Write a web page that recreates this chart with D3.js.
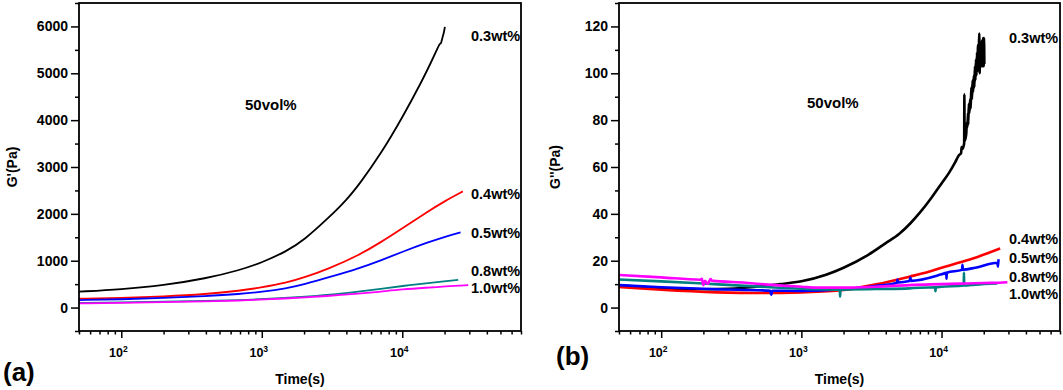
<!DOCTYPE html>
<html>
<head>
<meta charset="utf-8">
<script src="https://cdn.jsdelivr.net/npm/d3@7"></script>
<style>
  body { margin: 0; background: #fff; }
  svg { display: block; }
  text { font-family: "Liberation Sans", Arial, sans-serif; font-weight: bold; fill: #000; }
</style>
</head>
<body>
<div id="chart"></div>
<script>
// ---- data ----
const seriesLabels = ["0.3wt%", "0.4wt%", "0.5wt%", "0.8wt%", "1.0wt%"];
const seriesColors = ["#000000", "#ff0000", "#0000ff", "#008080", "#ff00ff"];

const timeDomain = [50, 70000];
const timeMajor = [100, 1000, 10000];

const storageTicks = [0, 1000, 2000, 3000, 4000, 5000, 6000];
const lossTicks = [0, 20, 40, 60, 80, 100, 120];

// (a) G' storage modulus, [time s, Pa]
const storage03 = [[50, 340], [100, 390], [200, 475], [400, 620], [700, 800], [1000, 960], [1500, 1200],
  [2000, 1440], [3000, 1920], [4000, 2290], [5000, 2650], [7000, 3270], [10000, 4050], [14000, 4870],
  [16000, 5230], [18000, 5560], [18600, 5650], [18800, 5610], [19300, 5760], [19800, 5870], [20100, 5990]];
const storage04 = [[50, 190], [100, 205], [200, 235], [400, 285], [700, 360], [1000, 430], [1500, 530],
  [2000, 640], [3000, 830], [5000, 1130], [7000, 1390], [10000, 1690], [15000, 2040], [20000, 2270], [27000, 2480]];
const storage05 = [[50, 160], [100, 175], [200, 205], [400, 245], [700, 290], [1000, 335], [1500, 410],
  [2000, 495], [3000, 645], [5000, 845], [7000, 1005], [10000, 1190], [15000, 1385], [20000, 1510], [26000, 1605]];
const storage08 = [[50, 100], [100, 110], [200, 125], [400, 140], [700, 160], [1000, 180], [2000, 230],
  [3000, 270], [5000, 345], [7000, 400], [10000, 460], [15000, 520], [20000, 560], [25000, 590]];
const storage10 = [[50, 90], [100, 100], [200, 115], [400, 130], [700, 150], [1000, 168], [2000, 215],
  [3000, 250], [5000, 300], [7000, 340], [10000, 388], [15000, 425], [20000, 450], [29500, 480]];

// (b) G'' loss modulus, [time s, Pa]
const loss03 = [[50, 9.5], [100, 8.3], [200, 7.8], [300, 8.0], [500, 9.0], [700, 10.0], [1000, 11.2],
  [1500, 14.0], [2000, 17.0], [3000, 22.5], [4000, 27.5], [5000, 31.5], [6000, 36.0], [7000, 40.5],
  [8500, 47], [10000, 53], [11300, 57.5], [12500, 62], [13300, 65], [13800, 66], [13900, 68.5],
  [14000, 67.5], [14500, 70], [14550, 91], [14600, 71], [15000, 74], [15150, 79], [15300, 77], [15450, 83],
  [15500, 78], [15650, 87], [15800, 83], [16000, 89], [16150, 85], [16300, 94], [16500, 89], [16650, 97],
  [16800, 92], [17000, 99], [17150, 94], [17300, 103], [17450, 97], [17600, 106], [17750, 99], [17900, 109],
  [18050, 101], [18200, 112], [18350, 103], [18500, 113], [18600, 117], [18700, 100], [18850, 111],
  [19000, 104], [19150, 113], [19300, 103], [19450, 114], [19600, 103], [19800, 115], [20000, 103],
  [20100, 115], [20200, 104]];
const loss04 = [[50, 8.8], [100, 7.6], [250, 6.5], [500, 6.2], [1000, 6.5], [2000, 7.5], [3400, 9.9],
  [5900, 13.2], [8000, 15.2], [10000, 17.0], [13000, 19.0], [17400, 21.3], [22000, 23.5], [26200, 25.2]];
const loss05 = [[50, 9.6], [100, 8.7], [250, 7.8], [600, 7.2], [610, 5.4], [620, 7.2], [1000, 7.1],
  [2000, 7.8], [3400, 9.2], [4800, 10.6], [4850, 12.0], [4900, 10.7], [5900, 11.3], [6000, 12.8],
  [6050, 11.4], [10000, 14.2], [10800, 14.8], [10850, 12.3], [10900, 14.9], [14000, 16.1], [14100, 18.3],
  [14200, 16.2], [17400, 17.0], [25000, 19.1], [25300, 17.4], [25500, 20.6]];
const loss08 = [[50, 12.0], [100, 11.2], [255, 9.9], [600, 8.7], [1300, 7.8], [1880, 7.6], [1890, 4.7],
  [1900, 7.6], [3400, 7.9], [5900, 8.2], [9000, 8.7], [9050, 7.0], [9100, 8.7], [10000, 8.9], [14400, 9.4],
  [14450, 14.9], [14500, 9.4], [17400, 9.8], [25000, 10.3]];
const loss10 = [[50, 13.9], [100, 12.9], [190, 11.9], [195, 12.3], [200, 9.6], [205, 11.4], [215, 10.1],
  [225, 12.2], [230, 11.5], [400, 10.6], [577, 9.8], [1000, 8.9], [1306, 8.5], [2000, 8.5], [3400, 8.9],
  [5900, 9.6], [10000, 10.0], [15000, 10.3], [20000, 10.5], [26000, 10.6], [29500, 10.8]];

// ---- layout ----
const width = 1063, height = 390;
const plotTop = 3, plotBottom = 331;

const panels = [
  {
    left: 79, right: 521, yDomain: [-500, 6500], yTicks: storageTicks, yMinorStep: 500,
    series: [storage03, storage04, storage05, storage08, storage10], lineWidth: 1.8, curve: d3.curveBasis,
    yTitle: "G'(Pa)", yTitleX: 12, tag: "(a)", tagX: 3, tagY: 381,
    note: { x: 245, y: 110 },
    labelX: 471, labelY: [41, 199, 238, 276, 293]
  },
  {
    left: 619, right: 1060, yDomain: [-10, 130], yTicks: lossTicks, yMinorStep: 10,
    series: [loss03, loss04, loss05, loss08, loss10], lineWidth: 2.6, curve: d3.curveMonotoneX,
    yTitle: "G''(Pa)", yTitleX: 555, tag: "(b)", tagX: 556, tagY: 365,
    note: { x: 807, y: 108 },
    labelX: 1009, labelY: [43, 244, 263, 282, 299]
  }
];

const timeMinor = [];
for (let e = 1; e <= 4; e++) {
  for (let m = 2; m <= 9; m++) {
    const v = m * Math.pow(10, e);
    if (v >= timeDomain[0] && v <= timeDomain[1]) timeMinor.push(v);
  }
}

const svg = d3.select("#chart")
  .append("svg")
  .attr("width", width)
  .attr("height", height);

function styleAxis(a) {
  a.attr("font-family", null).attr("font-size", null);
  a.selectAll(".tick line").attr("stroke", "#000").attr("stroke-width", 1.5);
  a.select(".domain").remove();
}

function drawPanel(p) {
  const x = d3.scaleLog().domain(timeDomain).range([p.left, p.right]);
  const y = d3.scaleLinear().domain(p.yDomain).range([plotBottom, plotTop]);
  const g = svg.append("g");

  // x axis: minor + major ticks
  g.append("g")
    .attr("transform", `translate(0,${plotBottom})`)
    .call(d3.axisBottom(x).tickValues(timeMinor).tickSize(3.5).tickFormat(""))
    .call(styleAxis);
  g.append("g")
    .attr("transform", `translate(0,${plotBottom})`)
    .call(d3.axisBottom(x).tickValues(timeMajor).tickSize(7).tickFormat(""))
    .call(styleAxis);

  // x tick labels as 10^n
  const xl = g.append("g").selectAll("text")
    .data(timeMajor)
    .enter()
    .append("text")
    .attr("x", d => x(d) - 3)
    .attr("y", plotBottom + 26)
    .attr("text-anchor", "middle")
    .style("font-size", "12.5px");
  xl.append("tspan").text("10");
  xl.append("tspan")
    .attr("dy", -5)
    .style("font-size", "8.5px")
    .text(d => Math.round(Math.log10(d)));

  // y axis
  const yMinor = d3.range(p.yDomain[0], p.yDomain[1] + 1e-9, p.yMinorStep)
    .filter(v => !p.yTicks.includes(v));
  g.append("g")
    .attr("transform", `translate(${p.left},0)`)
    .call(d3.axisLeft(y).tickValues(yMinor).tickSize(4).tickFormat(""))
    .call(styleAxis);
  g.append("g")
    .attr("transform", `translate(${p.left},0)`)
    .call(d3.axisLeft(y).tickValues(p.yTicks).tickSize(8).tickPadding(3).tickFormat(d => d))
    .call(styleAxis)
    .selectAll("text")
    .style("font-size", "14px");

  // curves
  const line = d3.line()
    .curve(p.curve)
    .x(d => x(d[0]))
    .y(d => y(d[1]));

  g.selectAll("path.curve")
    .data(p.series)
    .enter()
    .append("path")
    .attr("class", "curve")
    .attr("fill", "none")
    .attr("stroke", (d, i) => seriesColors[i])
    .attr("stroke-width", p.lineWidth)
    .attr("stroke-linejoin", "round")
    .attr("d", line);

  // frame
  g.append("rect")
    .attr("x", p.left)
    .attr("y", plotTop)
    .attr("width", p.right - p.left)
    .attr("height", plotBottom - plotTop)
    .attr("fill", "none")
    .attr("stroke", "#000")
    .attr("stroke-width", 1.8);

  // series labels
  g.selectAll("text.lab")
    .data(seriesLabels)
    .enter()
    .append("text")
    .attr("class", "lab")
    .attr("x", p.labelX)
    .attr("y", (d, i) => p.labelY[i])
    .style("font-size", "14.5px")
    .text(d => d);

  g.append("text")
    .attr("x", p.note.x)
    .attr("y", p.note.y)
    .style("font-size", "15px")
    .text("50vol%");

  // axis titles
  g.append("text")
    .attr("transform", `translate(${p.yTitleX + 5},${(plotTop + plotBottom) / 2}) rotate(-90)`)
    .attr("text-anchor", "middle")
    .style("font-size", "14px")
    .text(p.yTitle);

  g.append("text")
    .attr("x", (p.left + p.right) / 2)
    .attr("y", 384)
    .attr("text-anchor", "middle")
    .style("font-size", "14px")
    .text("Time(s)");

  g.append("text")
    .attr("x", p.tagX)
    .attr("y", p.tagY)
    .style("font-size", "26px")
    .text(p.tag);
}

panels.forEach(drawPanel);
</script>
</body>
</html>
